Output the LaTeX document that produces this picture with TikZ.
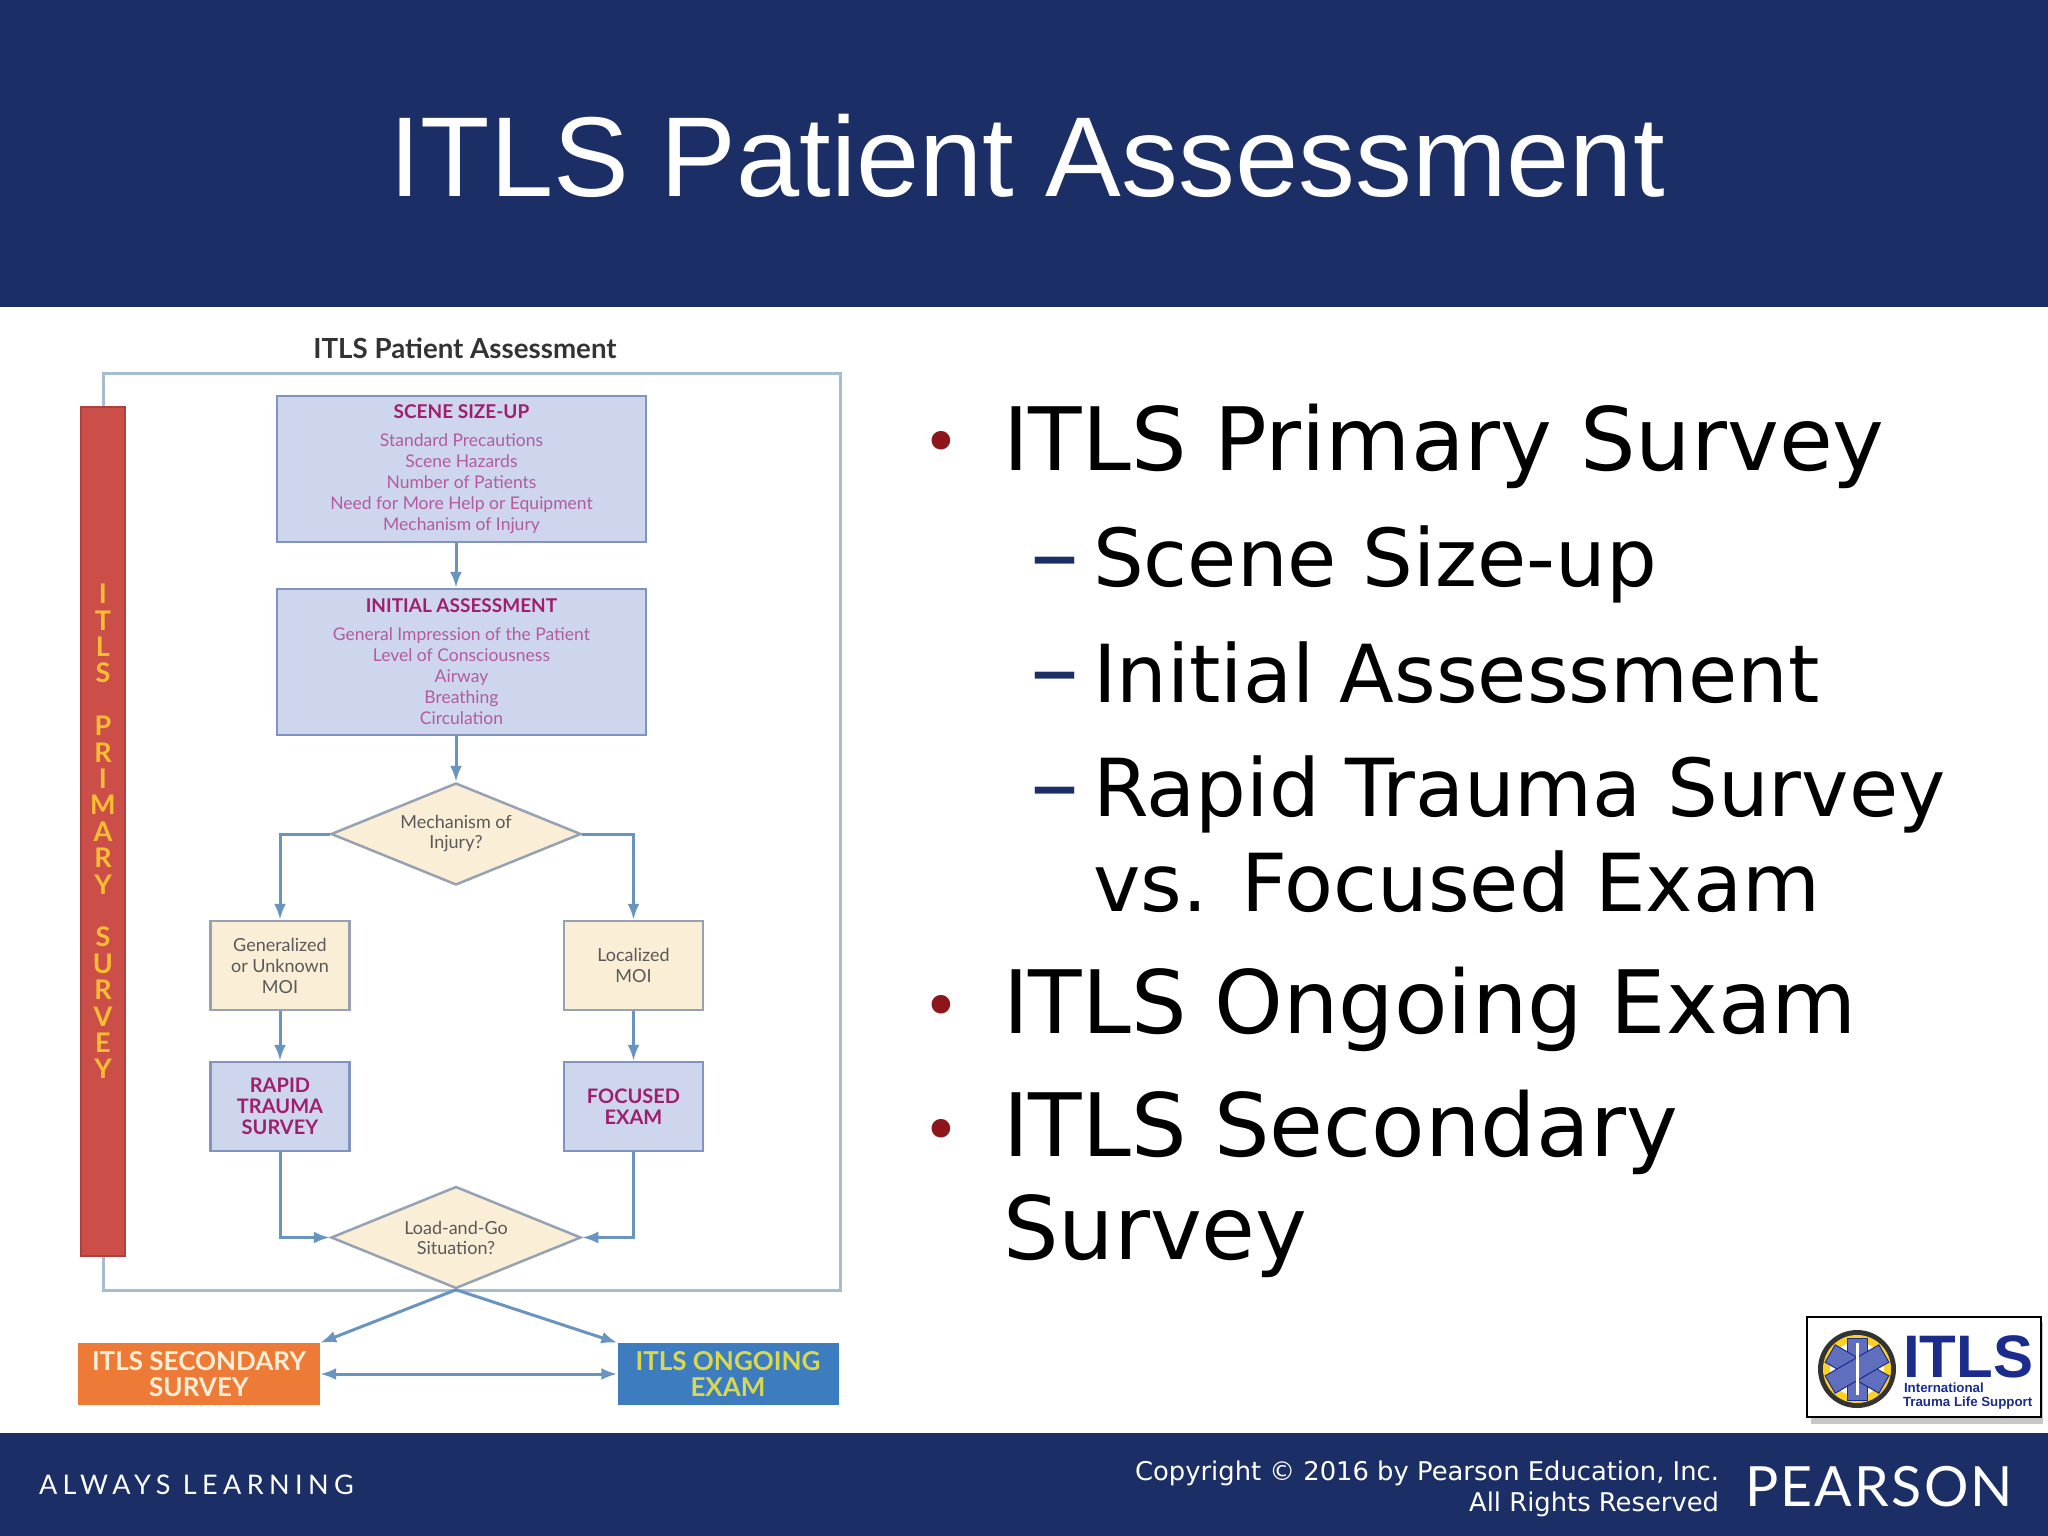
\documentclass[tikz,border=0pt]{standalone}
\usepackage{fontspec}
\usepackage{tikz}
\usetikzlibrary{shapes.geometric}
\usetikzlibrary{arrows.meta}
\setmainfont{Liberation Sans}
\newfontfamily\itlsbody{DejaVu Sans}
\newfontfamily\itlsfig{Lato}
\newfontfamily\itlswide[LetterSpace=20]{Lato}
\newfontfamily\itlsbrand[LetterSpace=4]{Lato}
\definecolor{custcol_navy}{RGB}{27, 46, 102}
\definecolor{custcol_line}{RGB}{106, 148, 192}
\definecolor{custcol_frame}{RGB}{168, 188, 208}
\definecolor{custcol_blue}{RGB}{205, 214, 236}
\definecolor{custcol_blueedge}{RGB}{128, 148, 190}
\definecolor{custcol_cream}{RGB}{251, 238, 214}
\definecolor{custcol_creamedge}{RGB}{150, 162, 178}
\definecolor{custcol_pink}{RGB}{180, 90, 160}
\definecolor{custcol_magenta}{RGB}{160, 30, 110}
\definecolor{custcol_red}{RGB}{204, 78, 72}
\definecolor{custcol_amber}{RGB}{250, 190, 50}
\definecolor{custcol_orange}{RGB}{238, 122, 56}
\definecolor{custcol_ongoing}{RGB}{62, 124, 192}
\definecolor{custcol_lime}{RGB}{214, 216, 80}
\definecolor{custcol_bullet}{RGB}{140, 22, 26}
\definecolor{custcol_logo}{RGB}{28, 44, 140}
\definecolor{custcol_star}{RGB}{96, 110, 190}
\tikzset{
	figbox/.style={rectangle, draw=custcol_blueedge, line width=2.5pt, fill=custcol_blue, inner sep=0, align=center, text=custcol_pink, font=\itlsfig\fontsize{17.5pt}{21pt}\selectfont},
	bigbox/.style={figbox, minimum width=369pt, minimum height=146pt},
	smallbox/.style={figbox, minimum width=139pt, minimum height=89pt, text=custcol_magenta, font=\itlsfig\bfseries\fontsize{20pt}{21pt}\selectfont},
	creambox/.style={smallbox, draw=custcol_creamedge, fill=custcol_cream, text=black!65, font=\itlsfig\fontsize{18pt}{21pt}\selectfont},
	choice/.style={diamond, draw=custcol_creamedge, line width=2.5pt, fill=custcol_cream, inner sep=0, aspect=2.4, minimum width=250pt, minimum height=102pt, align=center, text=black!65, font=\itlsfig\fontsize{18pt}{20pt}\selectfont},
	endbox/.style={rectangle, inner sep=0, align=center, font=\itlsfig\bfseries\fontsize{26pt}{26pt}\selectfont},
	flow/.style={line width=3pt, custcol_line, -{Latex[length=16pt,width=12pt]}},
	frameline/.style={line width=3pt, custcol_frame},
	itemtext/.style={inner sep=0, outer sep=0, anchor=base west, text=black, font=\itlsbody\fontsize{87.5pt}{87.5pt}\selectfont},
	subtext/.style={itemtext, font=\itlsbody\fontsize{80pt}{80pt}\selectfont},
	dashmark/.style={itemtext, text=custcol_navy, font=\itlsbody\fontsize{98pt}{98pt}\selectfont},
	bulletmark/.style={inner sep=0, outer sep=0, text=custcol_bullet, font=\itlsbody\fontsize{64pt}{64pt}\selectfont},
}
\begin{document}
\begin{tikzpicture}[x=1pt,y=-1pt,line cap=butt]
	\useasboundingbox (0,0) rectangle (2048,1536);
	\fill [white] (0,0) rectangle (2048,1536);
	\fill [custcol_navy] (0,0) rectangle (2048,307);
	\fill [custcol_navy] (0,1433) rectangle (2048,1536);
	\node[inner sep=0, outer sep=0, white, anchor=base] (title) at (1027,196) {\fontsize{113.6pt}{113.6pt}\selectfont ITLS Patient Assessment};
	% left flow chart
	\node[inner sep=0, text=black!80, anchor=base] (figtitle) at (465,358) {\itlsfig\bfseries\fontsize{27.7pt}{27.7pt}\selectfont ITLS Patient Assessment};
	\coordinate (framene) at (840,373.5);
	\coordinate (framese) at (840,1290);
	\node[rectangle, draw=custcol_red!85!black, line width=1.5pt, fill=custcol_red, minimum width=44pt, minimum height=849pt, inner sep=0, align=center, text=custcol_amber, font=\itlsfig\bfseries\fontsize{27pt}{26.4pt}\selectfont] (bar) at (103,831.5) {I\\T\\L\\S\\[26.4pt]P\\R\\I\\M\\A\\R\\Y\\[26.4pt]S\\U\\R\\V\\E\\Y};
	\draw [frameline] (bar.north) |- (framene) -- (framese) -| (bar.south);
	\node[bigbox] (scene) at (461.5,469) {{\color{custcol_magenta}\bfseries\fontsize{19pt}{21pt}\selectfont SCENE SIZE-UP}\\[7pt]Standard Precautions\\Scene Hazards\\Number of Patients\\Need for More Help or Equipment\\Mechanism of Injury};
	\node[bigbox] (initial) at (461.5,662) {{\color{custcol_magenta}\bfseries\fontsize{19pt}{21pt}\selectfont INITIAL ASSESSMENT}\\[7pt]General Impression of the Patient\\Level of Consciousness\\Airway\\Breathing\\Circulation};
	\node[choice] (mechanism) at (456,834) {Mechanism of\\Injury?};
	\node[creambox] (generalized) at (280,965.5) {Generalized\\or Unknown\\MOI};
	\node[creambox] (localized) at (633.5,965.5) {Localized\\MOI};
	\node[smallbox] (rapid) at (280,1106.5) {RAPID\\TRAUMA\\SURVEY};
	\node[smallbox] (focused) at (633.5,1106.5) {FOCUSED\\EXAM};
	\node[choice] (loadgo) at (456,1237.5) {Load-and-Go\\Situation?};
	\node[endbox, fill=custcol_orange, minimum width=242pt, minimum height=62pt, text=custcol_cream] (secondary) at (199,1374) {ITLS SECONDARY\\SURVEY};
	\node[endbox, fill=custcol_ongoing, minimum width=221pt, minimum height=62pt, text=custcol_lime] (ongoing) at (728,1374) {ITLS ONGOING\\EXAM};
	\draw [flow] (scene.south -| mechanism) -- (initial.north -| mechanism);
	\draw [flow] (initial.south -| mechanism) -- (mechanism.north);
	\draw [flow] (mechanism.west) -| (generalized.north);
	\draw [flow] (mechanism.east) -| (localized.north);
	\draw [flow] (generalized) -- (rapid);
	\draw [flow] (localized) -- (focused);
	\draw [flow] (rapid.south) |- (loadgo.west);
	\draw [flow] (focused.south) |- (loadgo.east);
	\draw [flow] (loadgo.south) -- (secondary.north east);
	\draw [flow] (loadgo.south) -- (ongoing.north west);
	\draw [flow, {Latex[length=16pt,width=12pt]}-{Latex[length=16pt,width=12pt]}] (secondary.east) -- (ongoing.west);
	% right column
	\node[bulletmark] (bulleta) at (941,448) {•};
	\node[itemtext] (itema) at (1003,470) {ITLS Primary Survey};
	\node[dashmark] (dasha) at (1030,587) {–};
	\node[subtext] (suba) at (1093,586) {Scene Size-up};
	\node[dashmark] (dashb) at (1030,702) {–};
	\node[subtext] (subb) at (1093,702) {Initial Assessment};
	\node[dashmark] (dashc) at (1030,817) {–};
	\node[subtext] (subc) at (1093,816) {Rapid Trauma Survey};
	\node[subtext] (subd) at (1093,911) {vs. Focused Exam};
	\node[bulletmark] (bulletb) at (941,1012) {•};
	\node[itemtext] (itemb) at (1003,1033) {ITLS Ongoing Exam};
	\node[bulletmark] (bulletc) at (941,1136) {•};
	\node[itemtext] (itemc) at (1003,1156) {ITLS Secondary};
	\node[itemtext] (itemd) at (1003,1259) {Survey};
	% logo
	\fill [black!22] (1811,1322) rectangle (2043,1424);
	\draw [line width=2pt, black, fill=white] (1807,1317) rectangle (2041,1417);
	\fill [black!80] (1857,1369) circle (39);
	\fill [custcol_amber!70!yellow] (1857,1369) circle (34);
	\fill [white] (1857,1369) circle (27);
	\foreach \itlsangle in {0,60,120} {
		\fill [custcol_star, draw=custcol_logo, line width=1pt, rotate around={\itlsangle:(1857,1369)}] (1847,1338) rectangle (1867,1400);
	}
	\draw [white, line width=3pt] (1857,1343) -- (1857,1395);
	\node[inner sep=0, outer sep=0, anchor=base west, text=custcol_logo] (logoname) at (1903,1377) {\bfseries\fontsize{60pt}{60pt}\selectfont ITLS};
	\node[inner sep=0, outer sep=0, anchor=base west, text=custcol_logo] (logoa) at (1904,1392) {\bfseries\fontsize{13.3pt}{13.3pt}\selectfont International};
	\node[inner sep=0, outer sep=0, anchor=base west, text=custcol_logo] (logob) at (1903,1406) {\bfseries\fontsize{13.3pt}{13.3pt}\selectfont Trauma Life Support};
	% footer
	\node[inner sep=0, outer sep=0, anchor=base west, white] (learning) at (39,1494) {\itlswide\fontsize{27pt}{27pt}\selectfont ALWAYS LEARNING};
	\node[inner sep=0, outer sep=0, anchor=base east, white] (copyline) at (1719,1480) {\itlsbody\fontsize{25.8pt}{25.8pt}\selectfont Copyright © 2016 by Pearson Education, Inc.};
	\node[inner sep=0, outer sep=0, anchor=base east, white] (rightsline) at (1719,1511) {\itlsbody\fontsize{25.8pt}{25.8pt}\selectfont All Rights Reserved};
	\node[inner sep=0, outer sep=0, anchor=base west, white] (pearson) at (1745,1506) {\itlsbrand\fontsize{55.5pt}{55.5pt}\selectfont PEARSON};
\end{tikzpicture}
\end{document}
